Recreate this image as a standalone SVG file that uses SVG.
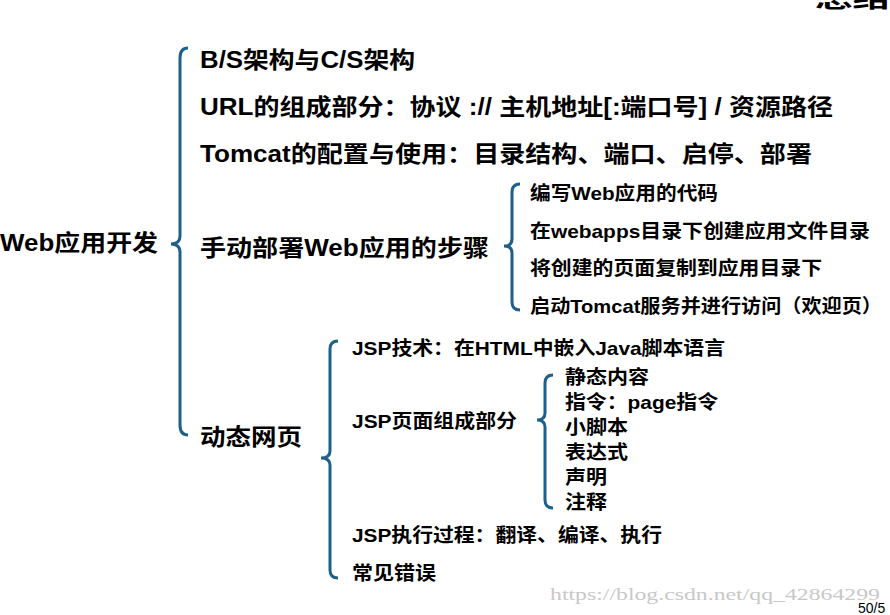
<svg xmlns="http://www.w3.org/2000/svg" width="890" height="615" viewBox="0 0 890 615">
<style>
text{font-family:"Liberation Sans","Noto Sans CJK SC",sans-serif;font-weight:bold;fill:#000}
.l1{font-size:23px}.l2{font-size:19px}
.br{fill:none;stroke:#1f5f8b;stroke-width:3}
.wm{font-family:"Liberation Serif","Noto Sans CJK SC",serif;font-weight:normal;fill:#c8c8c8;font-size:17px}
</style>
<rect width="890" height="615" fill="#fff"/>
<text x="815" y="7" class="l1" fill="#333" textLength="75" lengthAdjust="spacingAndGlyphs">总结</text>
<g id="connectors">
<path class="br" d="M188,48 Q180,48 180,58 L180,236 Q180,244 171,244 Q180,244 180,252 L180,425 Q180,435 188,435"/>
<path class="br" d="M520,184 Q512,184 512,192 L512,239 Q512,246 504,246 Q512,246 512,253 L512,302 Q512,310 520,310"/>
<path class="br" d="M338,341 Q330,341 330,349 L330,451 Q330,458 321,458 Q330,458 330,465 L330,570 Q330,578 338,578"/>
<path class="br" d="M553,375 Q545,375 545,383 L545,413 Q545,420 537,420 Q545,420 545,427 L545,500 Q545,508 553,508"/>
</g>
<g id="root"><text x="0" y="251" class="l1" textLength="158" lengthAdjust="spacingAndGlyphs">Web应用开发</text></g>
<g id="n1"><text x="200" y="68" class="l1" textLength="215" lengthAdjust="spacingAndGlyphs">B/S架构与C/S架构</text></g>
<g id="n2"><text x="200" y="115" class="l1" textLength="633" lengthAdjust="spacingAndGlyphs">URL的组成部分：协议 :// 主机地址[:端口号] / 资源路径</text></g>
<g id="n3"><text x="200" y="162" class="l1" textLength="612" lengthAdjust="spacingAndGlyphs">Tomcat的配置与使用：目录结构、端口、启停、部署</text></g>
<g id="n4"><text x="200" y="256" class="l1" textLength="289" lengthAdjust="spacingAndGlyphs">手动部署Web应用的步骤</text></g>
<g id="n5"><text x="200" y="445" class="l1" textLength="102" lengthAdjust="spacingAndGlyphs">动态网页</text></g>
<g id="s1"><text x="530" y="200" class="l2" textLength="188" lengthAdjust="spacingAndGlyphs">编写Web应用的代码</text></g>
<g id="s2"><text x="530" y="238" class="l2" textLength="340" lengthAdjust="spacingAndGlyphs">在webapps目录下创建应用文件目录</text></g>
<g id="s3"><text x="530" y="275" class="l2" textLength="292" lengthAdjust="spacingAndGlyphs">将创建的页面复制到应用目录下</text></g>
<g id="s4"><text x="530" y="313" class="l2" textLength="352" lengthAdjust="spacingAndGlyphs">启动Tomcat服务并进行访问（欢迎页）</text></g>
<g id="j1"><text x="352" y="355" class="l2" textLength="373" lengthAdjust="spacingAndGlyphs">JSP技术：在HTML中嵌入Java脚本语言</text></g>
<g id="j2"><text x="352" y="428" class="l2" textLength="165" lengthAdjust="spacingAndGlyphs">JSP页面组成部分</text></g>
<g id="j3"><text x="352" y="542" class="l2" textLength="310" lengthAdjust="spacingAndGlyphs">JSP执行过程：翻译、编译、执行</text></g>
<g id="j4"><text x="352" y="580" class="l2" textLength="84" lengthAdjust="spacingAndGlyphs">常见错误</text></g>
<g id="p1"><text x="565" y="384" class="l2" textLength="84" lengthAdjust="spacingAndGlyphs">静态内容</text></g>
<g id="p2"><text x="565" y="409" class="l2" textLength="153" lengthAdjust="spacingAndGlyphs">指令：page指令</text></g>
<g id="p3"><text x="565" y="434" class="l2" textLength="63" lengthAdjust="spacingAndGlyphs">小脚本</text></g>
<g id="p4"><text x="565" y="459" class="l2" textLength="63" lengthAdjust="spacingAndGlyphs">表达式</text></g>
<g id="p5"><text x="565" y="484" class="l2" textLength="42" lengthAdjust="spacingAndGlyphs">声明</text></g>
<g id="p6"><text x="565" y="509" class="l2" textLength="42" lengthAdjust="spacingAndGlyphs">注释</text></g>
<text x="550" y="600" class="wm" textLength="330" lengthAdjust="spacingAndGlyphs">https://blog.csdn.net/qq_42864299</text>
<text x="858" y="613" style="font-weight:normal;font-size:14px">50/5</text>
</svg>
